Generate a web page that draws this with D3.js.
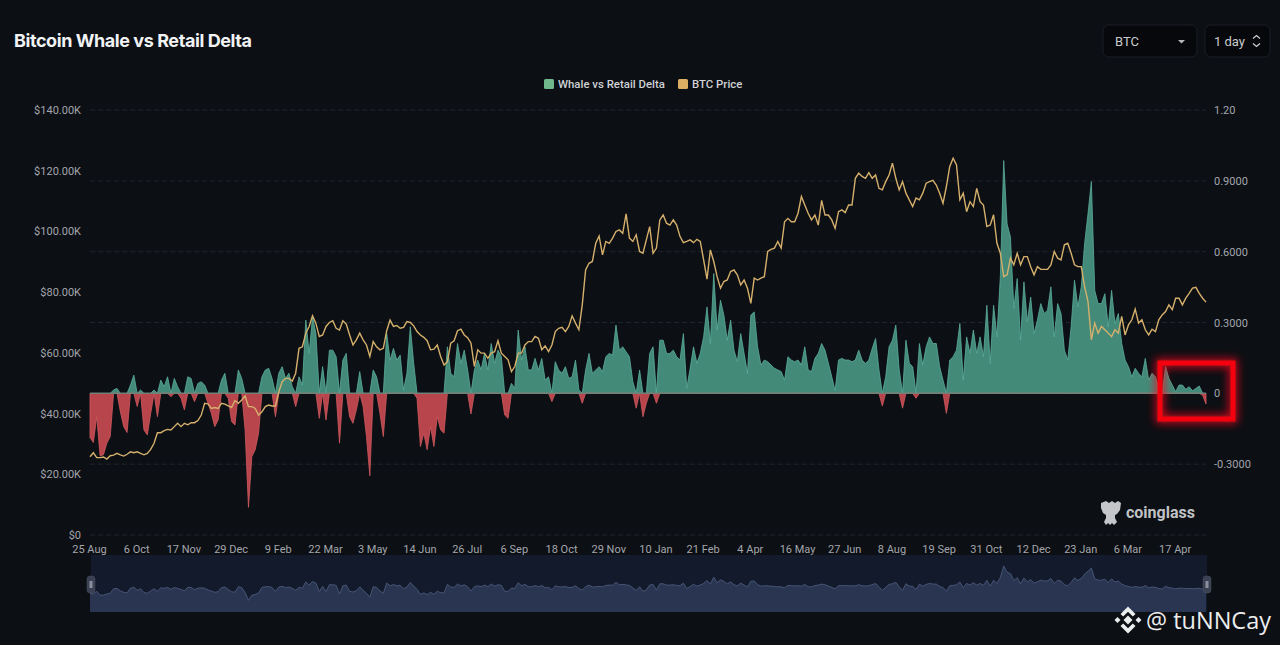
<!DOCTYPE html>
<html>
<head>
<meta charset="utf-8">
<script src="https://cdn.jsdelivr.net/npm/d3@7/dist/d3.min.js"></script>
<style>
  html, body { margin: 0; padding: 0; background: #0c0f14; overflow: hidden; }
  svg { display: block; }
  text { font-family: Roboto, "Noto Sans", sans-serif; }
  .axis .domain, .axis .tick line { display: none; }
  .axis text { fill: #a3a6ac; font-size: 11px; }
</style>
</head>
<body>
<svg id="chart" width="1280" height="645"></svg>
<script>
// one sample every 3 days, first one is 25 Aug 2023
const sampleStepDays = 3;

const deltaValues = [
  -.187,-.208,-.099,-.265,-.26,-.211,-.183,.014,.021,-.077,-.141,-.166,.035,.077,-.056,.014,-.155,-.176,-.085,.014,
  -.099,.056,.028,.07,-.014,.063,.028,-.021,-.07,.07,.063,-.035,.042,.049,.035,-.042,-.085,-.141,-.113,.056,
  .085,-.021,-.12,-.134,.099,.063,-.155,-.483,-.268,-.239,-.169,.07,.099,.106,.063,-.099,
  .085,.113,.063,.085,.028,-.056,.07,.035,.31,.169,.324,.253,-.106,.113,-.113,.183,.183,.155,-.211,.141,
  .169,-.099,-.127,-.07,.092,-.056,-.183,-.349,.099,.07,-.085,-.183,.253,.141,.19,.141,.162,.014,.085,.282,
  .127,-.021,-.225,-.169,-.239,-.141,-.225,-.099,-.155,-.169,.197,.085,.07,.211,.127,.183,.099,
  -.087,.099,.141,.099,.169,.099,.211,.127,.183,.155,-.092,-.106,.042,.021,.268,.141,.197,.099,.099,.148,
  .099,.148,.056,.07,-.035,.134,.099,.085,.113,.063,.07,.141,.014,-.042,.099,.169,.085,.099,.113,.092,
  .155,.169,.162,.289,.183,.197,.176,.155,.049,-.063,.099,-.099,-.042,.169,.197,-.042,
  .225,.225,.169,.169,.183,.155,.141,.253,.021,.106,.197,.127,.169,.239,.366,.211,.507,.268,.394,.331,
  .225,.31,.183,.134,.253,.169,.085,.331,.345,.197,.12,.141,.134,.12,.106,.099,.092,.056,.155,.141,
  .134,.141,.12,.197,.099,.092,.148,.169,.211,.183,.127,.07,.011,.141,.148,.141,
  .141,.134,.141,.183,.141,.127,.141,.19,.232,.099,-.054,.07,.197,.225,.289,.099,-.063,.225,.127,.113,
  -.021,.211,.12,.197,.239,.211,.211,.113,.056,-.085,.141,.155,.183,.296,.056,.239,.169,.268,.169,.239,
  .155,.373,.127,.373,.239,.493,.986,.718,.662,.359,.486,.225,.472,.303,.408,.253,
  .31,.38,.338,.352,.451,.239,.38,.338,.183,.141,.282,.479,.366,.451,.634,.76,.897,.436,.38,.38,
  .422,.282,.436,.296,.338,.211,.141,.113,.07,.106,.085,.07,.148,.056,.085,.07,.021,.003,.113,.063,
  .035,.007,.035,.035,.017,.028,.011,.021,.031,-.008,-.045
];

// BTC price in thousands of dollars
const priceValues = [
  25.8,27.1,25.5,25.5,25.7,25,26.1,26.3,26.9,26.4,26,26.6,27.4,27.1,27.4,26.9,26.4,26.9,28.2,30.2,
  33.7,33.7,34.4,34.8,34.6,35.7,36.8,35.7,36.8,36.3,37,37,37.7,39.5,43.4,43.2,41.7,42,41.7,43.4,
  43.1,42.5,42,44.3,43.4,44.5,45.8,42.3,42.3,41.7,39.5,40.6,42.3,42.8,42.5,42.5,
  47.2,50.5,51.6,51.6,50.7,53.3,61.5,62,66.5,68.7,72.2,69.7,65.4,65.9,68.7,70,70.6,68.1,67.5,70.6,
  69.5,65.9,62.6,64.3,66.5,64.3,62.6,58.8,63.7,62,61,61.5,67.3,70.8,68.7,69,68.1,68.4,70.3,70,
  68.9,67,65.9,65.1,64,61,61.2,62.6,58.8,56,57.1,63.2,64,67.3,67.8,65.9,65,
  63.2,55.5,61,59.9,59.9,58.2,59.9,60.4,64,59.9,58.8,57.7,53.8,55.5,59.9,59.9,62.6,63.7,63.7,65.4,
  64.8,61,62.3,60.4,62.6,67,68.1,68.4,67,68.7,72.2,69.8,67.6,75.8,87.3,89.5,90.1,96.1,98.5,92.3,
  96.7,96.1,97.8,100,100.5,99.4,105.8,97.8,96.7,98.9,93.4,92.8,97.2,101.6,92.8,94.5,
  103.8,105.4,102.7,102.1,103.8,102.1,98.3,96.3,96.7,97.2,96.3,97.4,96.7,90.6,84.3,93.9,90.1,85.1,81.3,83.5,
  84,86.8,87.3,85.7,82.4,84,81.3,76.3,84.6,84,84.6,85.1,93.4,94.1,94.5,96.7,94.5,103.2,104.3,103.2,
  103.2,106,111.5,108.7,106,103.8,105.4,102.1,110.2,105.4,105.4,103.8,101,106.5,107.1,106.2,
  108.7,108.7,117.5,119.2,118.1,117.5,119.4,117.5,118.6,114.2,113.7,116.4,118.6,122.5,117.5,113.7,116.4,112.6,110.4,108.2,
  111,110.4,112.6,115.9,116.4,116.8,115.3,112.6,109.3,114.8,121.4,124.1,121.9,110.4,112.6,106.5,109.8,108.2,114.2,109.8,
  108.7,101.6,102.1,105.5,96.1,92.8,85.1,85.7,91.2,89,92.8,89,91.7,91.7,88.4,85.7,
  88.4,87.5,87.5,87.5,89,93.4,91.2,90.6,95.6,96.1,92.8,89,88.4,88.4,81.8,76.9,64.3,69.8,66.5,68.7,
  67.6,66.5,65.4,67.6,66.5,72,65.9,69.2,70.9,74.4,69.8,70.9,67.6,65.9,67.8,67,70.9,72.5,73.6,75.8,
  74.2,78,78,75.8,78,79.6,81.3,81.6,79.6,78,76.7
];

const dateLabels = ['25 Aug','6 Oct','17 Nov','29 Dec','9 Feb','22 Mar','3 May','14 Jun','26 Jul','6 Sep','18 Oct','29 Nov',
  '10 Jan','21 Feb','4 Apr','16 May','27 Jun','8 Aug','19 Sep','31 Oct','12 Dec','23 Jan','6 Mar','17 Apr'];
const dateLabelStepDays = 42;

const priceTicks = [0, 20, 40, 60, 80, 100, 120, 140];
const deltaTicks = [-0.3, 0, 0.3, 0.6, 0.9, 1.2];
const deltaTickLabels = ['-0.3000', '0', '0.3000', '0.6000', '0.9000', '1.20'];
const gridTicks = [-0.6, -0.3, 0, 0.3, 0.6, 0.9, 1.2];

const legendItems = ['Whale vs Retail Delta', 'BTC Price'];
const legendColors = ['#6fb98c', '#dcae64'];

const svg = d3.select('#chart');

const lastDay = (deltaValues.length - 1) * sampleStepDays;
const x = d3.scaleLinear().domain([0, lastDay]).range([90, 1206]);
const yPrice = d3.scaleLinear().domain([0, 140]).range([535, 110]);
const yDelta = d3.scaleLinear().domain([-0.6, 1.2]).range([535, 110]);
const dayOf = (d, i) => i * sampleStepDays;

// title
svg.append('text').attr('x', 14).attr('y', 47)
  .attr('fill', '#f1f2f4').attr('font-size', 18).attr('font-weight', 700)
  .style('font-family', 'Inter, Roboto, sans-serif').style('letter-spacing', '-0.43px')
  .text('Bitcoin Whale vs Retail Delta');

// select boxes top right
function selectBox(bx, w, label) {
  svg.append('rect').attr('x', bx).attr('y', 25).attr('width', w).attr('height', 32).attr('rx', 6)
    .attr('fill', '#07080b').attr('stroke', '#1b1e25');
  svg.append('text').attr('x', bx + (w > 80 ? 12 : 9)).attr('y', 46)
    .attr('fill', '#c9cbce').attr('font-size', 13).text(label);
}
selectBox(1103, 94, 'BTC');
selectBox(1205, 65, '1 day');
svg.append('path').attr('d', 'M1178 40h7l-3.5 3.5z').attr('fill', '#b5b7bb');
svg.append('path').attr('d', 'M1253 38.5l3.5-3 3.5 3M1253 43.5l3.5 3 3.5-3')
  .attr('fill', 'none').attr('stroke', '#c9cbce').attr('stroke-width', 1.3);

// legend
const legendSwatchX = [544, 678];
legendItems.forEach((name, i) => {
  svg.append('rect').attr('x', legendSwatchX[i]).attr('y', 79).attr('width', 10).attr('height', 10).attr('rx', 1.5)
    .attr('fill', legendColors[i]);
  svg.append('text').attr('x', legendSwatchX[i] + 14).attr('y', 88)
    .attr('fill', '#d0d2d5').attr('font-size', 11.4).attr('font-weight', 500).text(name);
});

// grid follows the right axis
svg.append('g').selectAll('line').data(gridTicks).enter().append('line')
  .attr('x1', 90).attr('x2', 1206)
  .attr('y1', d => yDelta(d)).attr('y2', d => yDelta(d))
  .attr('stroke', '#20242b').attr('stroke-dasharray', '5 3');

// axes
svg.append('g').attr('class', 'axis').attr('transform', 'translate(90,0)')
  .call(d3.axisLeft(yPrice).tickValues(priceTicks).tickSize(0).tickPadding(9)
    .tickFormat(d => d === 0 ? '$0' : `$${d3.format('.2f')(d)}K`));
svg.append('g').attr('class', 'axis').attr('transform', 'translate(1206,0)')
  .call(d3.axisRight(yDelta).tickValues(deltaTicks).tickSize(0).tickPadding(8)
    .tickFormat(d => deltaTickLabels[deltaTicks.indexOf(d)]));
svg.append('g').attr('class', 'axis').attr('transform', 'translate(-1,542)')
  .call(d3.axisBottom(x).tickValues(dateLabels.map((d, i) => i * dateLabelStepDays)).tickSize(0).tickPadding(3)
    .tickFormat((d, i) => dateLabels[i]));

// delta areas, split around zero
const areaUp = d3.area().x((d, i) => x(dayOf(d, i))).y0(yDelta(0)).y1(d => yDelta(Math.max(d, 0)));
const areaDown = d3.area().x((d, i) => x(dayOf(d, i))).y0(yDelta(0)).y1(d => yDelta(Math.min(d, 0)));

svg.append('path').datum(deltaValues).attr('d', areaUp)
  .attr('fill', '#438a79').attr('stroke', '#5cae9b').attr('stroke-width', 0.8);
svg.append('path').datum(deltaValues).attr('d', areaDown)
  .attr('fill', '#b8444c').attr('stroke', '#cf5a60').attr('stroke-width', 0.8);
svg.append('line').attr('x1', 90).attr('x2', 1206).attr('y1', yDelta(0)).attr('y2', yDelta(0))
  .attr('stroke', '#64897f').attr('stroke-width', 1);

// price line
const priceLine = d3.line().x((d, i) => x(dayOf(d, i))).y(d => yPrice(d));
svg.append('path').datum(priceValues).attr('d', priceLine)
  .attr('fill', 'none').attr('stroke', '#d5b06c').attr('stroke-width', 1.4);

// data zoom strip under the chart
const navY = d3.scaleLinear().domain([-0.6, 1.2]).range([603, 561]);
svg.append('rect').attr('x', 91).attr('y', 555).attr('width', 1116).attr('height', 57).attr('fill', '#121a2b');
const navArea = d3.area().x((d, i) => x(dayOf(d, i))).y0(612).y1(d => navY(d));
svg.append('path').datum(deltaValues).attr('d', navArea).attr('fill', '#2a3551');
svg.append('path').datum(deltaValues)
  .attr('d', d3.line().x((d, i) => x(dayOf(d, i))).y(d => navY(d)))
  .attr('fill', 'none').attr('stroke', '#515f83').attr('stroke-width', 0.8);
[91, 1207].forEach(hx => {
  svg.append('rect').attr('x', hx - 4).attr('y', 576).attr('width', 8).attr('height', 17).attr('rx', 3)
    .attr('fill', '#3a4152').attr('stroke', '#4a5162').attr('stroke-width', 0.5);
  svg.append('rect').attr('x', hx - 1.5).attr('y', 581).attr('width', 3).attr('height', 7)
    .attr('fill', '#8b909c');
});

// coinglass mark
svg.append('path')
  .attr('d', 'M1101 503l5-2 3 2 3-2 3 2 3-2 3 2-1 7-3 4-2 1v3l2 4-3 3-2-2-2 2-2-2-2 2-2-3 2-4v-3l-3-2-2-5z')
  .attr('fill', '#c4c6c9');
svg.append('text').attr('x', 1126).attr('y', 518)
  .attr('fill', '#c0c2c5').attr('font-size', 16).attr('font-weight', 700).text('coinglass');

// highlight box with glow
const defs = svg.append('defs');
defs.append('filter').attr('id', 'glow').attr('x', '-30%').attr('y', '-30%').attr('width', '160%').attr('height', '160%')
  .append('feGaussianBlur').attr('stdDeviation', 4);
svg.append('rect').attr('x', 1160).attr('y', 363).attr('width', 73).attr('height', 56)
  .attr('fill', 'none').attr('stroke', '#ff0a1e').attr('stroke-width', 9).attr('opacity', 0.75).attr('filter', 'url(#glow)');
svg.append('rect').attr('x', 1160).attr('y', 363).attr('width', 73).attr('height', 56)
  .attr('fill', 'none').attr('stroke', '#f5000f').attr('stroke-width', 5);

// watermark
const wm = svg.append('g').attr('transform', 'translate(1128,620)').attr('fill', '#eceded');
wm.append('path').attr('d', 'M0 -4.5L4.5 0L0 4.5L-4.5 0Z');
wm.append('path').attr('d', 'M-13.5 0L-10.5 -3L-7.5 0L-10.5 3Z');
wm.append('path').attr('d', 'M13.5 0L10.5 -3L7.5 0L10.5 3Z');
wm.append('path').attr('d', 'M0 -13.5L7.5 -6L4.8 -3.6L0 -8.2L-4.8 -3.6L-7.5 -6Z');
wm.append('path').attr('d', 'M0 13.5L7.5 6L4.8 3.6L0 8.2L-4.8 3.6L-7.5 6Z');
svg.append('text').attr('x', 1146).attr('y', 629)
  .attr('fill', '#eceded').attr('font-size', 23.5)
  .style('font-family', '"Open Sans", sans-serif').text('@ tuNNCay');
</script>
</body>
</html>
